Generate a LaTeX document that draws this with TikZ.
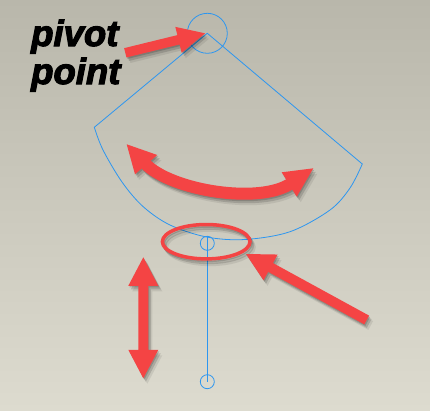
\documentclass[tikz,border=0pt]{standalone}
\usepackage{fontspec}
\newfontfamily\labelfont{Liberation Sans}[BoldItalicFeatures={FakeBold=3}]
\usetikzlibrary{calc}
\definecolor{bgtop}{RGB}{185,183,171}
\definecolor{bgbot}{RGB}{221,219,207}
\definecolor{pblue}{RGB}{45,150,240}
\definecolor{ared}{RGB}{244,68,68}
\tikzset{
  blueline/.style={draw=pblue, line width=0.8pt},
  bob/.style={circle, draw=pblue, line width=0.8pt, minimum size=14pt, inner sep=0pt},
  lbl/.style={anchor=base west, inner sep=0pt, text=black,
    font=\labelfont\bfseries\itshape\fontsize{36.5}{38}\selectfont},
}
% #1 colour, #2 tail, #3 tip, #4 head base, #5 half shaft, #6 half head
\newcommand\onearrow[6]{%
  \fill[#1] ($(#2)!#5!90:(#3)$) -- ($(#4)!#5!-90:(#2)$) -- ($(#4)!#6!-90:(#2)$)
    -- (#3) -- ($(#4)!#6!90:(#2)$) -- ($(#4)!#5!90:(#2)$) -- ($(#2)!#5!-90:(#3)$) -- cycle;}
% #1 colour, #2 tip1, #3 tip2, #4 base1, #5 base2, #6 half shaft, #7 half head
\newcommand\twoarrow[7]{%
  \fill[#1] (#2) -- ($(#4)!#7!90:(#3)$) -- ($(#4)!#6!90:(#3)$) -- ($(#5)!#6!-90:(#2)$)
    -- ($(#5)!#7!-90:(#2)$) -- (#3) -- ($(#5)!#7!90:(#2)$) -- ($(#5)!#6!90:(#2)$)
    -- ($(#4)!#6!-90:(#3)$) -- ($(#4)!#7!-90:(#3)$) -- cycle;}
\newcommand\redshapes[1]{%
  \onearrow{#1}{pat}{pap}{pab}{4.8pt}{13.3pt}%
  \onearrow{#1}{lrt}{lrp}{lrb}{5pt}{14.7pt}%
  \twoarrow{#1}{vat}{vab}{vatb}{vabb}{5pt}{15pt}%
  \draw[#1, line width=12pt] (cvs) .. controls (cvc1) and (cvc2) .. (cve);
  \fill[#1] (cvl) -- (cvl1) -- (cvl2) -- cycle;
  \fill[#1] (cvr) -- (cvr1) -- (cvr2) -- cycle;
  \draw[#1, line width=3.5pt] (ellc) ellipse [x radius=43.8, y radius=17.2];
}
\begin{document}
\begin{tikzpicture}[x=1pt, y=-1pt]
\useasboundingbox (0,0) rectangle (430,410);
\shade[top color=bgtop, bottom color=bgbot] (0,0) rectangle (430,410);

% ---- blue pendulum sketch ----
\coordinate (piv) at (207.3,33.3);
\node[circle, draw=pblue, line width=0.8pt, minimum size=40pt, inner sep=0pt] (pivc) at (piv) {};
\draw[blueline] (piv) -- plot[smooth, tension=0.55] coordinates {
  (94.3,127.3) (103,150) (122,182) (143,206.5) (170,225) (206.7,237)
  (245,239.5) (290,231.7) (330,210) (350,188) (362.3,164)} -- cycle;
\node[bob] (bobtop) at (207.3,243.3) {};
\node[bob] (bobbot) at (207.3,381.7) {};
\coordinate (arcb) at (207.3,237);
\draw[blueline] (arcb) -- (bobbot.center);

% ---- red mark-up geometry ----
\coordinate (pat) at (125.3,52.8);
\coordinate (pap) at (205,33.3);
\coordinate (pab) at ($(pap)!27.3pt!(pat)$);
\coordinate (lrt) at (366.7,320);
\coordinate (lrp) at (246,254);
\coordinate (lrb) at ($(lrp)!28pt!(lrt)$);
\coordinate (vat) at (143.3,257.3);
\coordinate (vab) at (143.3,378.3);
\coordinate (vatb) at ($(vat)!28.5pt!(vab)$);
\coordinate (vabb) at ($(vab)!28.5pt!(vat)$);
\coordinate (cvs) at (144.8,163.3);
\coordinate (cvc1) at (171.0,190.6);
\coordinate (cvc2) at (259.3,204.7);
\coordinate (cve) at (290.9,183.4);
\coordinate (cvl) at (126.7,144.3);
\coordinate (cvl1) at (157.3,155);
\coordinate (cvl2) at (135,174.3);
\coordinate (cvr) at (313.3,168.3);
\coordinate (cvr1) at (281.7,172.3);
\coordinate (cvr2) at (296.7,196.7);
\coordinate (ellc) at (206.2,241.7);

% soft shadows
\foreach \dx/\dy/\op in {1/-1.5/0.16, 2.5/-3.5/0.14, 4/-5.5/0.08} {
  \begin{scope}[transparency group, opacity=\op]
    \path (0,0) rectangle (430,410);
    \begin{scope}[transform canvas={shift={(\dx pt,\dy pt)}}]
      \redshapes{black}
    \end{scope}
  \end{scope}
}
\redshapes{ared}

% ---- label ----
\node[lbl] (lblpivot) at (31,46) {pivot};
\node[lbl] (lblpoint) at (31,84) {point};
\end{tikzpicture}
\end{document}
